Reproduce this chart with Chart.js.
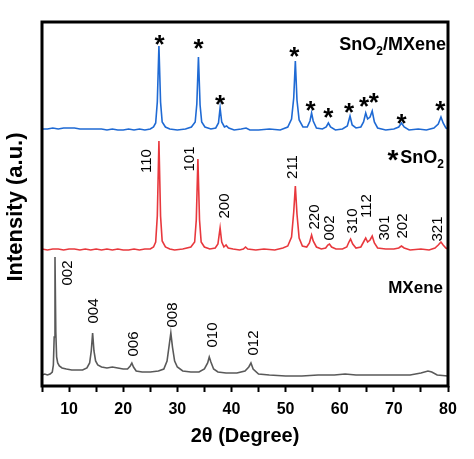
<!DOCTYPE html>
<html>
<head>
<meta charset="utf-8">
<script src="https://cdn.jsdelivr.net/npm/chart.js@4.4.1/dist/chart.umd.min.js"></script>
<style>
    html, body { margin: 0; padding: 0; background: #ffffff; }
</style>
</head>
<body>
<canvas id="graficoXrd" width="474" height="459"></canvas>
<script>
/* Dados: 2θ (graus) e intensidade (u.a.) acima da linha de base de cada padrão */
const mxeneAngulo = [
    5, 5.5, 6, 6.5, 6.9, 7.1, 7.25, 7.4, 7.55, 7.7,
    7.9, 8.2, 8.7, 9.5, 10.5, 11.5, 12.5, 13.3, 13.8, 14.1,
    14.35, 14.6, 14.9, 15.3, 16, 17, 18, 19, 20, 20.8,
    21.3, 21.6, 21.9, 22.4, 23.5, 25, 26.5, 27.5, 28.1, 28.5,
    28.8, 29.1, 29.5, 30, 31, 32.5, 34, 35, 35.6, 35.9,
    36.2, 36.7, 37.5, 39, 41, 42.5, 43.2, 43.6, 44, 45,
    47, 50, 53, 56, 59, 61, 63, 66, 70, 73,
    75, 76.3, 77, 78, 80
];
const mxeneIntensidade = [
    2, 3, 2, 3, 5, 12, 40, 120, 45, 20,
    14, 11, 9, 8, 7, 7, 7, 9, 14, 26,
    44, 26, 16, 12, 10, 9, 10, 9, 8, 8,
    11, 14, 10, 6, 5, 5, 6, 8, 16, 32,
    44, 30, 16, 10, 6, 5, 5, 8, 14, 20,
    15, 8, 5, 4, 4, 6, 10, 14, 8, 3,
    2, 1, 1, 2, 2, 3, 2, 2, 2, 2,
    4, 6, 5, 2, 1
];

const sno2Angulo = [
    5, 6, 7, 8, 9, 10, 11, 12, 13, 14,
    15, 16, 17, 18, 19, 20, 21, 22, 23, 24,
    25, 25.6, 26, 26.3, 26.6, 26.9, 27.2, 27.8, 28.6, 29.5,
    31, 32.5, 33.2, 33.5, 33.8, 34.1, 34.4, 35, 36, 37,
    37.5, 37.9, 38.2, 38.6, 39, 39.4, 40.3, 41.5, 42.2, 42.6,
    43, 44.5, 46, 48, 49.5, 50.4, 51.1, 51.5, 51.8, 52.1,
    52.5, 53.1, 53.9, 54.4, 54.8, 55.1, 55.7, 56.6, 57.4, 57.8,
    58.1, 58.5, 59.3, 60.5, 61.3, 61.7, 62, 62.4, 63, 63.9,
    64.4, 64.8, 65.15, 65.6, 66, 66.4, 67, 68.5, 70, 70.9,
    71.4, 71.9, 73, 75, 76.5, 77.6, 78.2, 78.7, 79.1, 79.6,
    80
];
const sno2Intensidade = [
    1, 0, 1, 1, 0, 1, 1, 0, 1, 0,
    1, 0, 1, 0, 1, 0, 0, 1, 0, 1,
    1, 3, 8, 34, 109, 34, 9, 3, 1, 0,
    1, 3, 8, 30, 91, 30, 8, 3, 1, 2,
    6, 22, 8, 3, 5, 2, 1, 0, 1, 3,
    1, 0, 1, 0, 2, 4, 13, 38, 64, 36,
    12, 4, 3, 7, 15, 9, 3, 1, 2, 5,
    6, 3, 1, 1, 3, 8, 11, 6, 2, 3,
    8, 12, 8, 10, 14, 7, 2, 1, 1, 2,
    4, 2, 0, 1, 0, 2, 5, 8, 5, 2,
    1
];

const compAngulo = [
    5, 6, 7, 8, 9, 10, 11, 12, 13, 14,
    15, 16, 17, 18, 19, 20, 21, 22, 23, 24,
    25, 25.6, 26, 26.3, 26.6, 26.9, 27.2, 27.8, 28.6, 30,
    31.5, 32.6, 33.3, 33.6, 33.9, 34.2, 34.5, 35.1, 36.2, 37.1,
    37.6, 37.9, 38.2, 38.7, 39.1, 39.5, 40.5, 41.8, 42.7, 43.4,
    45, 47, 49, 50.4, 51.1, 51.5, 51.8, 52.1, 52.5, 53.2,
    54, 54.5, 54.8, 55.1, 55.7, 56.8, 57.5, 57.9, 58.3, 59.2,
    60.5, 61.4, 61.9, 62.3, 63, 63.9, 64.4, 64.8, 65.15, 65.6,
    66, 66.4, 67, 68.5, 70, 70.9, 71.4, 71.9, 72.8, 74.5,
    76, 77.4, 78.2, 78.7, 79.1, 79.6, 80
];
const compIntensidade = [
    1, 1, 2, 1, 2, 2, 2, 1, 1, 1,
    1, 1, 0, 1, 0, 0, 1, 0, 1, 0,
    1, 3, 7, 28, 84, 28, 8, 3, 1, 0,
    1, 3, 8, 26, 73, 25, 8, 3, 1, 2,
    7, 22, 8, 3, 4, 2, 0, 1, 2, 0,
    0, 1, 0, 3, 11, 32, 69, 30, 10, 3,
    3, 9, 17, 9, 2, 1, 3, 7, 3, 0,
    1, 4, 14, 5, 2, 3, 8, 17, 11, 13,
    19, 8, 2, 0, 1, 3, 7, 3, 0, 1,
    0, 2, 6, 13, 7, 2, 1
];

/* Deslocamento vertical de cada padrão (u.a.) */
const mxeneDesvio = 9;
const sno2Desvio = 136;
const compDesvio = 256;

/* Marcadores * dos picos de SnO2 no compósito */
const estrelaAngulo = [26.7, 33.9, 37.9, 51.6, 54.6, 57.9, 61.7, 64.5, 66.3, 71.4, 78.6];
const estrelaNivel = [348, 344, 288, 336, 282, 275, 280, 286, 290, 269, 282];

/* Índices de Miller */
const sno2Planos = ['110', '101', '200', '211', '220', '002', '310', '112', '301', '202', '321'];
const sno2PlanosAngulo = [24.3, 32.3, 38.7, 51.3, 55.4, 58.1, 62.4, 65.0, 68.3, 71.7, 78.1];
const sno2PlanosNivel = [225, 227, 180, 219, 169, 158, 165, 180, 158, 160, 157];

const mxenePlanos = ['002', '004', '006', '008', '010', '012'];
const mxenePlanosAngulo = [9.8, 14.6, 21.9, 29.1, 36.5, 44.1];
const mxenePlanosNivel = [113, 75, 42, 71, 51, 43];

const eixoXTicks = [10, 20, 30, 40, 50, 60, 70, 80];

const fonte = '"Liberation Sans", Arial, sans-serif';

function montarPontos(angulos, valores, desvio) {
    return angulos.map(function (a, i) {
        return { x: a, y: valores[i] + desvio };
    });
}

/* Escreve texto com o "2" em índice */
function textoComIndice(ctx, partes, xDireita, y, tamanho) {
    let largura = 0;
    partes.forEach(function (p) {
        ctx.font = 'bold ' + (p.sub ? Math.round(tamanho * 0.65) : tamanho) + 'px ' + fonte;
        largura += ctx.measureText(p.t).width;
    });
    let x = xDireita - largura;
    ctx.textAlign = 'left';
    ctx.textBaseline = 'middle';
    partes.forEach(function (p) {
        ctx.font = 'bold ' + (p.sub ? Math.round(tamanho * 0.65) : tamanho) + 'px ' + fonte;
        ctx.fillText(p.t, x, p.sub ? y + tamanho * 0.35 : y);
        x += ctx.measureText(p.t).width;
    });
    return xDireita - largura;
}

/* Moldura, anotações e títulos dos eixos */
const anotacoes = {
    id: 'anotacoes',
    afterDraw: function (chart) {
        const ctx = chart.ctx;
        const area = chart.chartArea;
        const sx = chart.scales.x;
        const sy = chart.scales.y;

        ctx.save();
        ctx.strokeStyle = '#000000';
        ctx.lineWidth = 3;
        ctx.strokeRect(area.left, area.top, area.right - area.left, area.bottom - area.top);

        ctx.fillStyle = '#000000';

        // estrelas
        ctx.font = 'bold 26px ' + fonte;
        ctx.textAlign = 'center';
        ctx.textBaseline = 'alphabetic';
        estrelaAngulo.forEach(function (a, i) {
            ctx.fillText('*', sx.getPixelForValue(a), sy.getPixelForValue(estrelaNivel[i]) + 15);
        });

        // planos (texto rodado)
        function planos(nomes, angulos, niveis) {
            ctx.font = '15px ' + fonte;
            nomes.forEach(function (n, i) {
                ctx.save();
                ctx.translate(sx.getPixelForValue(angulos[i]), sy.getPixelForValue(niveis[i]));
                ctx.rotate(-Math.PI / 2);
                ctx.textAlign = 'center';
                ctx.textBaseline = 'middle';
                ctx.fillText(n, 0, 0);
                ctx.restore();
            });
        }
        planos(sno2Planos, sno2PlanosAngulo, sno2PlanosNivel);
        planos(mxenePlanos, mxenePlanosAngulo, mxenePlanosNivel);

        // nomes das amostras
        textoComIndice(ctx, [{ t: 'SnO' }, { t: '2', sub: true }, { t: '/MXene' }], area.right - 2, 45, 18);
        const inicio = textoComIndice(ctx, [{ t: 'SnO' }, { t: '2', sub: true }], area.right - 4, 158, 18);
        ctx.font = 'bold 28px ' + fonte;
        ctx.textAlign = 'right';
        ctx.textBaseline = 'alphabetic';
        ctx.fillText('*', inicio - 2, 158 + 11);
        textoComIndice(ctx, [{ t: 'MXene' }], area.right - 5, 288, 17);

        // títulos dos eixos
        ctx.font = 'bold 20px ' + fonte;
        ctx.textAlign = 'center';
        ctx.textBaseline = 'middle';
        ctx.fillText('2θ (Degree)', (area.left + area.right) / 2, 436);

        ctx.save();
        ctx.translate(16, 207);
        ctx.rotate(-Math.PI / 2);
        ctx.font = 'bold 22px ' + fonte;
        ctx.fillText('Intensity (a.u.)', 0, 0);
        ctx.restore();

        ctx.restore();
    }
};

new Chart(document.getElementById('graficoXrd'), {
    type: 'line',
    data: {
        datasets: [
            {
                label: 'MXene',
                data: montarPontos(mxeneAngulo, mxeneIntensidade, mxeneDesvio),
                borderColor: '#595959',
                borderWidth: 1.6
            },
            {
                label: 'SnO2',
                data: montarPontos(sno2Angulo, sno2Intensidade, sno2Desvio),
                borderColor: '#e8383d',
                borderWidth: 1.6
            },
            {
                label: 'SnO2/MXene',
                data: montarPontos(compAngulo, compIntensidade, compDesvio),
                borderColor: '#1f6ad4',
                borderWidth: 1.6
            }
        ]
    },
    options: {
        responsive: false,
        animation: false,
        layout: {
            padding: { left: 42, top: 22, right: 26, bottom: 0 }
        },
        elements: {
            point: { radius: 0 },
            line: { tension: 0 }
        },
        plugins: {
            legend: { display: false },
            tooltip: { enabled: false }
        },
        scales: {
            x: {
                type: 'linear',
                min: 5,
                max: 80,
                afterFit: function (scale) {
                    scale.height = 459 - 386;
                },
                ticks: {
                    stepSize: 5,
                    autoSkip: false,
                    maxRotation: 0,
                    padding: 8,
                    color: '#000000',
                    font: { family: fonte, size: 16, weight: 'bold' },
                    callback: function (v) {
                        return eixoXTicks.includes(v) ? String(v) : '';
                    }
                },
                grid: {
                    drawOnChartArea: false,
                    drawTicks: true,
                    tickLength: 6,
                    tickWidth: 2,
                    tickColor: '#000000'
                },
                border: { display: false }
            },
            y: {
                display: false,
                min: 0,
                max: 364
            }
        }
    },
    plugins: [anotacoes]
});
</script>
</body>
</html>
